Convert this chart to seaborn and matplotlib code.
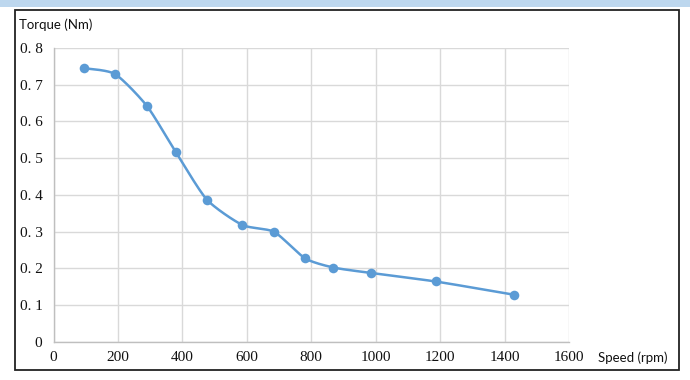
import numpy as np
import pandas as pd
import matplotlib
matplotlib.use("Agg")
import matplotlib.pyplot as plt
from matplotlib.patches import Rectangle
import seaborn as sns

# ---- data ----
speed_rpm = [95, 191, 290, 380, 476, 586, 685, 781, 869, 987, 1186, 1429]
torque_nm = [0.745, 0.729, 0.642, 0.516, 0.387, 0.318, 0.299, 0.227, 0.202, 0.187, 0.164, 0.128]
x_ticks = [0, 200, 400, 600, 800, 1000, 1200, 1400, 1600]
y_ticks = [0.0, 0.1, 0.2, 0.3, 0.4, 0.5, 0.6, 0.7, 0.8]
y_tick_labels = ["0", "0. 1", "0. 2", "0. 3", "0. 4", "0. 5", "0. 6", "0. 7", "0. 8"]
x_title = "Speed (rpm)"
y_title = "Torque (Nm)"

LINE_COLOR = "#5B9BD5"
GRID_COLOR = "#D9D9D9"


def smooth_curve(xs, ys, n=30):
    """Catmull-Rom style smoothing (like a spreadsheet 'smoothed line')."""
    xs = np.asarray(xs, float)
    ys = np.asarray(ys, float)
    sx = 1600.0 / 515.0
    sy = 0.8 / 293.0
    px = xs / sx
    py = ys / sy
    P = np.column_stack([px, py])
    P = np.vstack([P[0], P, P[-1]])
    out = []
    tension = 0.5
    for i in range(1, len(P) - 2):
        p0, p1, p2, p3 = P[i - 1], P[i], P[i + 1], P[i + 2]
        m1 = (p2 - p0) * tension / 1.5 if i > 1 else (p2 - p1) * tension / 1.5
        m2 = (p3 - p1) * tension / 1.5 if i < len(P) - 3 else (p2 - p1) * tension / 1.5
        t = np.linspace(0, 1, n, endpoint=(i == len(P) - 3))
        h00 = 2 * t**3 - 3 * t**2 + 1
        h10 = t**3 - 2 * t**2 + t
        h01 = -2 * t**3 + 3 * t**2
        h11 = t**3 - t**2
        seg = (h00[:, None] * p1 + h10[:, None] * m1 + h01[:, None] * p2 + h11[:, None] * m2)
        out.append(seg)
    out = np.vstack(out)
    return out[:, 0] * sx, out[:, 1] * sy


sns.set_theme(style="white")
plt.rcParams["font.family"] = ["Liberation Serif", "DejaVu Serif"]

fig = plt.figure(figsize=(6.9, 3.8), dpi=100)
fig.patch.set_facecolor("white")

# top light-blue band and chart frame
fig.patches.append(Rectangle((0, 1 - 7 / 380), 1, 7 / 380, transform=fig.transFigure,
                             facecolor="#BDD7EE", edgecolor="none", zorder=0))
fig.patches.append(Rectangle((14.5 / 690, 1 - 370 / 380), (679 - 14.5) / 690, (370 - 10) / 380,
                             transform=fig.transFigure, facecolor="white",
                             edgecolor="#222222", linewidth=1.3, zorder=1))

ax = fig.add_axes([53.5 / 690, 1 - 341.7 / 380, (569 - 53.5) / 690, (341.7 - 48) / 380])
ax.set_facecolor("white")
ax.set_zorder(2)
ax.patch.set_alpha(0)

sx, sy = smooth_curve(speed_rpm, torque_nm)
curve = pd.DataFrame({"speed": sx, "torque": sy})
pts = pd.DataFrame({"speed": speed_rpm, "torque": torque_nm})

sns.lineplot(data=curve, x="speed", y="torque", sort=False, estimator=None,
             color=LINE_COLOR, linewidth=1.8, ax=ax, zorder=3)
sns.scatterplot(data=pts, x="speed", y="torque", color=LINE_COLOR, s=48,
                edgecolor=LINE_COLOR, linewidth=0, ax=ax, zorder=4)

ax.set_xlim(0, 1600)
ax.set_ylim(0, 0.8)
ax.set_xticks(x_ticks)
ax.set_yticks(y_ticks)
ax.set_xticklabels([str(v) for v in x_ticks])
ax.set_yticklabels(y_tick_labels)
ax.grid(True, color=GRID_COLOR, linewidth=1.0)
ax.set_axisbelow(True)
for side in ["top", "right"]:
    ax.spines[side].set_visible(False)
for side in ["left", "bottom"]:
    ax.spines[side].set_color("#BFBFBF")
    ax.spines[side].set_linewidth(1.0)
ax.tick_params(axis="both", length=0, labelsize=11, colors="#111111")
ax.tick_params(axis="y", pad=8)
ax.tick_params(axis="x", pad=7)
ax.set_xlabel("")
ax.set_ylabel("")

fig.text(19 / 690, 1 - 25 / 380, y_title, fontsize=9.5, family=["Lato", "DejaVu Sans"],
         ha="left", va="center", color="#111111", zorder=5)
fig.text(598 / 690, 1 - 358 / 380, x_title, fontsize=9.5, family=["Lato", "DejaVu Sans"],
         ha="left", va="center", color="#111111", zorder=5)

fig.savefig("out.png", dpi=100)
